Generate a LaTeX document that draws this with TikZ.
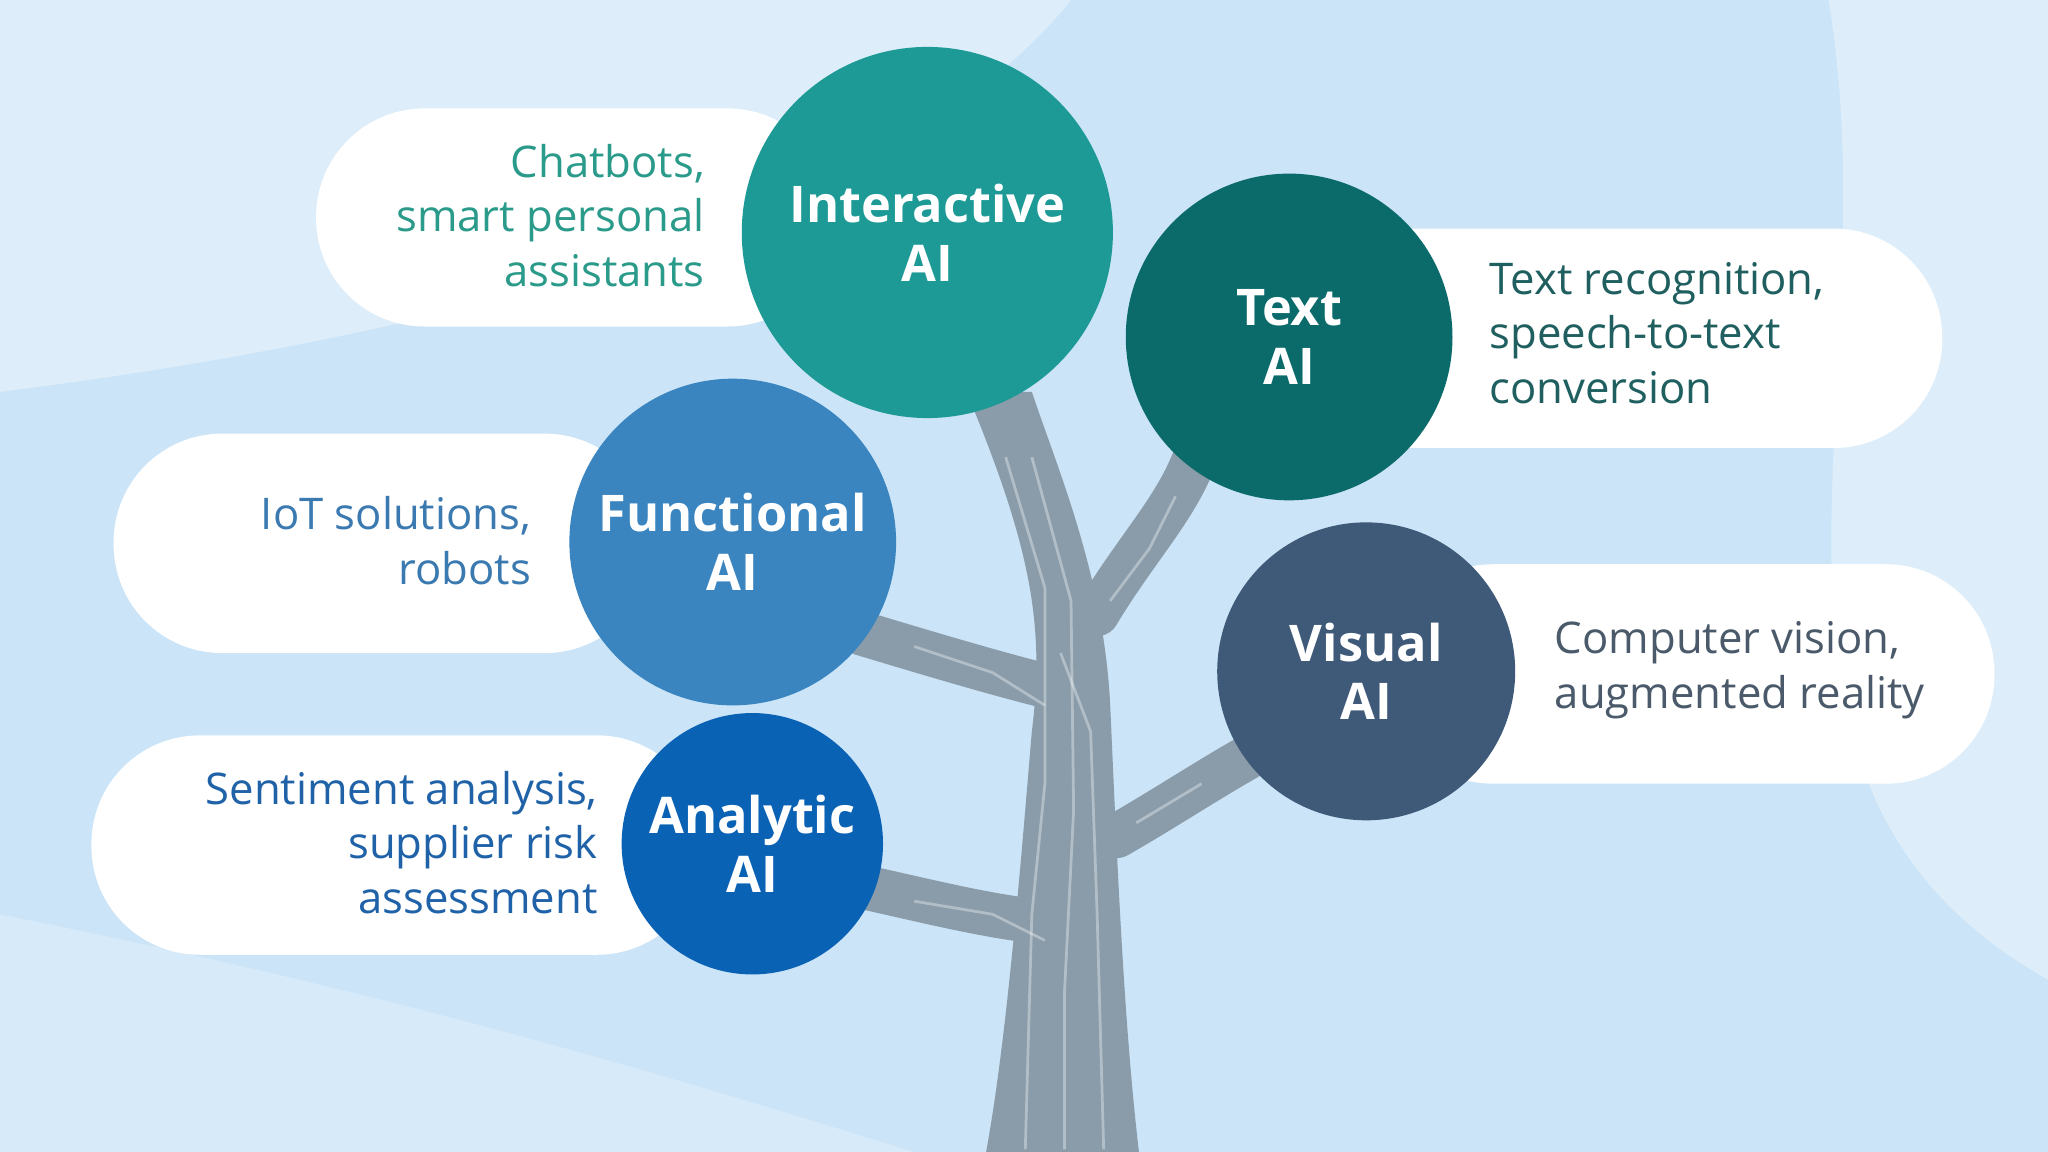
\documentclass[tikz,border=0pt]{standalone}
\usepackage{fontspec}
\setmainfont{Open Sans}
\begin{document}
\begin{tikzpicture}[x=0.01cm,y=-0.01cm,
  pill/.style={fill=white,rounded corners=0.83cm},
  circ/.style={circle,inner sep=0pt},
  lbl/.style={text=white,font=\fontsize{11}{12.8}\selectfont\bfseries,align=center},
  desc/.style={font=\fontsize{9.5}{11.9}\selectfont},
  br/.style={draw=treec,line width=0.34cm,line cap=round}]
\definecolor{bg}{HTML}{CBE4F7}
\definecolor{bgl}{HTML}{DDEEFA}
\definecolor{treec}{HTML}{8A9CA9}
\definecolor{cI}{HTML}{1E9A96}
\definecolor{cT}{HTML}{0B6A6A}
\definecolor{cF}{HTML}{3A85C0}
\definecolor{cV}{HTML}{3F5A78}
\definecolor{cA}{HTML}{0A62B5}
\definecolor{tI}{HTML}{2A9A8A}
\definecolor{tT}{HTML}{1F5F5F}
\definecolor{tF}{HTML}{3A7AB0}
\definecolor{tV}{HTML}{4A5A6A}
\definecolor{tA}{HTML}{1F62A8}
\useasboundingbox (0,0) rectangle (1568,882);
\fill[bg] (0,0) rectangle (1568,882);
\fill[bgl] (0,0) -- (820,0) .. controls (700,150) and (400,250) .. (0,300) -- cycle;
\fill[bgl] (1568,0) -- (1400,0) .. controls (1450,300) and (1300,600) .. (1568,750) -- cycle;
\fill[bgl!60!bg] (0,882) -- (0,700) .. controls (300,760) and (500,820) .. (700,882) -- cycle;
% pills
\fill[pill] (242,83) rectangle (640,250);
\fill[pill] (1000,175) rectangle (1487,343);
\fill[pill] (87,332) rectangle (500,500);
\fill[pill] (1060,432) rectangle (1527,600);
\fill[pill] (70,563) rectangle (540,731);
% tree
\fill[treec] (740,300) .. controls (790,420) and (800,480) .. (790,560)
  .. controls (780,680) and (770,800) .. (755,882) -- (872,882)
  .. controls (860,780) and (855,650) .. (850,540)
  .. controls (845,440) and (810,360) .. (790,300) -- cycle;
\draw[br] (840,470) .. controls (870,420) and (900,390) .. (915,350);
\draw[br] (800,525) .. controls (760,515) and (710,500) .. (660,485);
\draw[br] (855,640) .. controls (890,620) and (920,600) .. (955,580);
\draw[br] (790,705) .. controls (750,700) and (710,690) .. (665,680);
\begin{scope}[draw=white,opacity=0.35,line width=0.6pt]
\draw (770,350) -- (800,450) -- (800,600) -- (790,700) -- (785,880);
\draw (790,350) -- (820,460) -- (822,620) -- (815,760) -- (815,880);
\draw (812,500) -- (835,560) -- (840,700) -- (845,880);
\draw (850,460) -- (880,420) -- (900,380);
\draw (700,495) -- (760,515) -- (800,540);
\draw (870,630) -- (920,600);
\draw (700,690) -- (760,700) -- (800,720);
\end{scope}
% circles
\node[circ,fill=cI,minimum size=2.84cm] (ia) at (710,178) {};
\node[circ,fill=cT,minimum size=2.5cm] (ta) at (987,258) {};
\node[circ,fill=cF,minimum size=2.5cm] (fa) at (561,415) {};
\node[circ,fill=cV,minimum size=2.28cm] (va) at (1046,514) {};
\node[circ,fill=cA,minimum size=2.0cm] (aa) at (576,646) {};
\node[lbl] (ial) at (ia) {Interactive\\AI};
\node[lbl] (tal) at (ta) {Text\\AI};
\node[lbl] (fal) at (fa) {Functional\\AI};
\node[lbl] (val) at (va) {Visual\\AI};
\node[lbl] (aal) at (aa) {Analytic\\AI};
% descriptions
\node[desc,anchor=east,align=right,text=tI] (id) at (552,165) {Chatbots,\\smart personal\\assistants};
\node[desc,anchor=west,align=left,text=tT] (td) at (1128,255) {Text recognition,\\speech-to-text\\conversion};
\node[desc,anchor=east,align=right,text=tF] (fd) at (419,414) {IoT solutions,\\robots};
\node[desc,anchor=west,align=left,text=tV] (vd) at (1178,513) {Computer vision,\\augmented reality};
\node[desc,anchor=east,align=right,text=tA] (ad) at (470,645) {Sentiment analysis,\\supplier risk\\assessment};
\end{tikzpicture}
\end{document}
